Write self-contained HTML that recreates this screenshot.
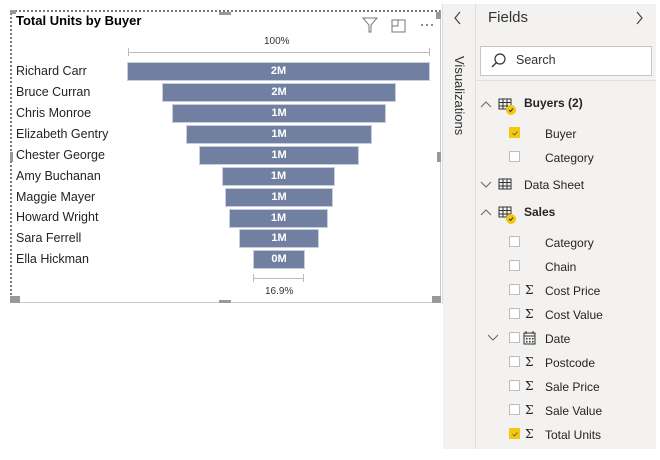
<!DOCTYPE html>
<html><head><meta charset="utf-8"><style>
*{margin:0;padding:0;box-sizing:border-box}
body{width:660px;height:460px;background:#fff;position:relative;overflow:hidden;font-family:"Liberation Sans",sans-serif;color:#252423}
.a{position:absolute}
.bar{position:absolute;height:19px;background:#7180a0;border:1px solid #c8cde0;color:#fff;font-size:11px;font-weight:bold;text-align:center;line-height:17px}
.lbl{position:absolute;left:16px;font-size:12.5px;color:#252423}
.row{position:absolute;font-size:12px;color:#252423}
.cb{position:absolute;width:11px;height:11px;border:1px solid #bdbdbd;background:#fff}
.cb.on{background:#f2c811;border-color:#f2c811}
.sig{position:absolute;font-size:12px;font-family:"DejaVu Serif",serif;color:#252423}
</style></head><body>
<!-- visual frame -->
<div class="a" style="left:10px;top:10px;width:431px;height:293px;border-top:2px dotted #777;border-left:2px dotted #777;border-right:1px solid #ccc;border-bottom:1px solid #ccc"></div>
<div class="a" style="left:10px;top:10px;width:6px;height:4px;background:#999"></div>
<div class="a" style="left:219px;top:12px;width:12px;height:3px;background:#999"></div>
<div class="a" style="left:436px;top:12px;width:5px;height:7px;background:#999"></div>
<div class="a" style="left:437px;top:152px;width:4px;height:10px;background:#999"></div>
<div class="a" style="left:10px;top:152px;width:3px;height:10px;background:#999"></div>
<div class="a" style="left:10px;top:296px;width:10px;height:7px;background:#999"></div>
<div class="a" style="left:219px;top:300px;width:12px;height:3px;background:#999"></div>
<div class="a" style="left:432px;top:296px;width:9px;height:7px;background:#999"></div>
<div class="a" style="left:16px;top:13px;font-size:13px;font-weight:bold;color:#000">Total Units by Buyer</div>
<!-- header icons -->
<svg class="a" style="left:360px;top:16px" width="80" height="20">
<path d="M3 2 L17 2 L11 9 L11 16 L9 16 L9 9 Z" fill="none" stroke="#777" stroke-width="1"/>
<rect x="32" y="4" width="13" height="12" fill="none" stroke="#777"/>
<path d="M38 4 L38 10 L32 10" fill="none" stroke="#777"/>
<circle cx="62" cy="9" r="1" fill="#666"/><circle cx="67" cy="9" r="1" fill="#666"/><circle cx="72" cy="9" r="1" fill="#666"/>
</svg>
<!-- scales -->
<div class="a" style="left:264px;top:36px;font-size:10px;color:#333">100%</div>
<div class="a" style="left:128px;top:52px;width:302px;height:1px;background:#bbb"></div>
<div class="a" style="left:128px;top:48px;width:1px;height:8px;background:#bbb"></div>
<div class="a" style="left:429px;top:48px;width:1px;height:8px;background:#bbb"></div>
<div class="a" style="left:253px;top:278px;width:51px;height:1px;background:#bbb"></div>
<div class="a" style="left:253px;top:274px;width:1px;height:8px;background:#bbb"></div>
<div class="a" style="left:303px;top:274px;width:1px;height:8px;background:#bbb"></div>
<div class="a" style="left:265px;top:286px;font-size:10px;color:#333">16.9%</div>
<!-- labels & bars -->
<div class="lbl" style="top:64px">Richard Carr</div><div class="bar" style="left:127px;top:62px;width:303px">2M</div>
<div class="lbl" style="top:85px">Bruce Curran</div><div class="bar" style="left:162px;top:83px;width:234px">2M</div>
<div class="lbl" style="top:106px">Chris Monroe</div><div class="bar" style="left:172px;top:104px;width:214px">1M</div>
<div class="lbl" style="top:127px">Elizabeth Gentry</div><div class="bar" style="left:186px;top:125px;width:186px">1M</div>
<div class="lbl" style="top:148px">Chester George</div><div class="bar" style="left:199px;top:146px;width:160px">1M</div>
<div class="lbl" style="top:169px">Amy Buchanan</div><div class="bar" style="left:222px;top:167px;width:113px">1M</div>
<div class="lbl" style="top:190px">Maggie Mayer</div><div class="bar" style="left:225px;top:188px;width:108px">1M</div>
<div class="lbl" style="top:210px">Howard Wright</div><div class="bar" style="left:229px;top:209px;width:99px">1M</div>
<div class="lbl" style="top:231px">Sara Ferrell</div><div class="bar" style="left:239px;top:229px;width:80px">1M</div>
<div class="lbl" style="top:252px">Ella Hickman</div><div class="bar" style="left:253px;top:250px;width:52px">0M</div>
<!-- right panel -->
<div class="a" style="left:442px;top:4px;width:1px;height:300px;background:#ddd"></div>
<div class="a" style="left:443px;top:4px;width:213px;height:445px;background:#f3f2f1"></div>
<div class="a" style="left:475px;top:4px;width:1px;height:445px;background:#e1dfdd"></div>
<svg class="a" style="left:452px;top:10px" width="12" height="16"><path d="M8 2 L3 8 L8 14" fill="none" stroke="#444" stroke-width="1.2"/></svg>
<div class="a" style="left:449px;top:56px;width:20px;height:100px">
<div style="position:absolute;left:0;top:0;transform-origin:0 0;transform:translate(18px,0) rotate(90deg);font-size:13px;color:#333;white-space:nowrap">Visualizations</div></div>
<div class="a" style="left:488px;top:9px;font-size:15px;color:#333">Fields</div>
<svg class="a" style="left:634px;top:10px" width="12" height="16"><path d="M3 2 L8 8 L3 14" fill="none" stroke="#444" stroke-width="1.2"/></svg>
<div class="a" style="left:480px;top:46px;width:172px;height:30px;background:#fff;border:1px solid #c8c6c4"></div>
<svg class="a" style="left:490px;top:52px" width="18" height="18"><circle cx="10" cy="7" r="5" fill="none" stroke="#333" stroke-width="1.2"/><path d="M6.5 10.5 L2 15" stroke="#333" stroke-width="1.3"/></svg>
<div class="a" style="left:516px;top:53px;font-size:12.5px;color:#333">Search</div>
<div class="a" style="left:476px;top:80px;width:180px;height:1px;background:#e1dfdd"></div>
<!-- tree -->
<svg class="a" style="left:478px;top:95px" width="70" height="350">
<path d="M3 12 L8 7 L13 12" fill="none" stroke="#666"/>
<path d="M3 87 L8 92 L13 87" fill="none" stroke="#666"/>
<path d="M3 120 L8 115 L13 120" fill="none" stroke="#666"/>
<path d="M10 240 L15 245 L20 240" fill="none" stroke="#666"/>
<g fill="none" stroke="#333"><rect x="21" y="4" width="12" height="10"/><path d="M21 7.5H33M21 11H33M25 4V14M29 4V14"/></g>
<g fill="none" stroke="#333"><rect x="21" y="84" width="12" height="10"/><path d="M21 87.5H33M21 91H33M25 84V94M29 84V94"/></g>
<g fill="none" stroke="#333"><rect x="21" y="112" width="12" height="10"/><path d="M21 115.5H33M21 119H33M25 112V122M29 112V122"/></g>
<circle cx="33" cy="15" r="5" fill="#f2c811"/><path d="M31 15 L32.5 16.5 L35 13.5" fill="none" stroke="#333" stroke-width="1"/>
<circle cx="33" cy="124" r="5" fill="#f2c811"/><path d="M31 124 L32.5 125.5 L35 122.5" fill="none" stroke="#333" stroke-width="1"/>
<g fill="none" stroke="#333"><rect x="46" y="238" width="11" height="11"/><path d="M46 241H57M48 236V239M55 236V239"/></g>
<g fill="#333"><rect x="48" y="243" width="1.5" height="1.5"/><rect x="51" y="243" width="1.5" height="1.5"/><rect x="54" y="243" width="1.5" height="1.5"/><rect x="48" y="246" width="1.5" height="1.5"/><rect x="51" y="246" width="1.5" height="1.5"/><rect x="54" y="246" width="1.5" height="1.5"/></g>
</svg>
<div class="row" style="left:524px;top:96px;font-weight:bold">Buyers (2)</div>
<div class="cb on" style="left:509px;top:127px"></div><div class="row" style="left:545px;top:127px">Buyer</div>
<div class="cb" style="left:509px;top:151px"></div><div class="row" style="left:545px;top:151px">Category</div>
<div class="row" style="left:524px;top:178px">Data Sheet</div>
<div class="row" style="left:524px;top:205px;font-weight:bold">Sales</div>
<div class="cb" style="left:509px;top:236px"></div><div class="row" style="left:545px;top:236px">Category</div>
<div class="cb" style="left:509px;top:260px"></div><div class="row" style="left:545px;top:260px">Chain</div>
<div class="cb" style="left:509px;top:284px"></div><div class="sig" style="left:525px;top:283px">Σ</div><div class="row" style="left:545px;top:284px">Cost Price</div>
<div class="cb" style="left:509px;top:308px"></div><div class="sig" style="left:525px;top:307px">Σ</div><div class="row" style="left:545px;top:308px">Cost Value</div>
<div class="cb" style="left:509px;top:332px"></div><div class="row" style="left:545px;top:332px">Date</div>
<div class="cb" style="left:509px;top:356px"></div><div class="sig" style="left:525px;top:355px">Σ</div><div class="row" style="left:545px;top:356px">Postcode</div>
<div class="cb" style="left:509px;top:380px"></div><div class="sig" style="left:525px;top:379px">Σ</div><div class="row" style="left:545px;top:380px">Sale Price</div>
<div class="cb" style="left:509px;top:404px"></div><div class="sig" style="left:525px;top:403px">Σ</div><div class="row" style="left:545px;top:404px">Sale Value</div>
<div class="cb on" style="left:509px;top:428px"></div><div class="sig" style="left:525px;top:427px">Σ</div><div class="row" style="left:545px;top:428px">Total Units</div>
<svg class="a" style="left:510px;top:128px" width="10" height="10"><path d="M2.5 5 L4.5 7 L7.5 3.5" fill="none" stroke="#8a6d00" stroke-width="1"/></svg>
<svg class="a" style="left:510px;top:429px" width="10" height="10"><path d="M2.5 5 L4.5 7 L7.5 3.5" fill="none" stroke="#8a6d00" stroke-width="1"/></svg>
</body></html>
